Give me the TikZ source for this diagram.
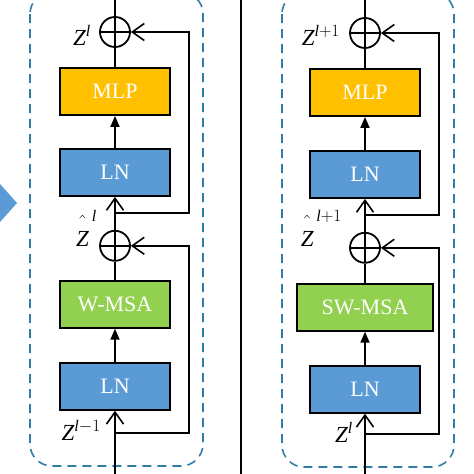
\documentclass[tikz,border=0pt]{standalone}
\usepackage{amsmath}
\usepackage{fontspec}
\setmainfont{Liberation Serif}
\usetikzlibrary{arrows.meta, positioning}

\definecolor{mlpyellow}{RGB}{255,192,0}
\definecolor{lnblue}{RGB}{91,155,213}
\definecolor{msagreen}{RGB}{146,208,80}
\definecolor{dashblue}{RGB}{47,125,165}

\newcommand{\hatZ}{\hat{\rule{0pt}{25pt}\textit{Z}}}

\begin{document}
\begin{tikzpicture}[
  x=1pt, y=-1pt,
  box/.style={draw, line width=2pt, minimum width=110pt, minimum height=47pt,
              inner sep=0pt, text=white, font=\fontsize{22}{24}\selectfont},
  add/.style={draw, circle, line width=1.8pt, minimum size=30pt, inner sep=0pt,
              path picture={\draw[line width=1.8pt]
                (path picture bounding box.north) -- (path picture bounding box.south)
                (path picture bounding box.west) -- (path picture bounding box.east);}},
  lbl/.style={font=\fontsize{23}{25}\selectfont, inner sep=0pt},
  wire/.style={line width=1.8pt},
  open/.style={wire, -{Straight Barb[length=12pt, width=17pt, line width=1.6pt]}},
  feed/.style={wire, -{Triangle[length=11pt, width=9pt]}},
  frame/.style={draw=dashblue, dash pattern=on 9pt off 6pt, line width=1.6pt,
                rounded corners=22pt}
]
  \clip (0,0) rectangle (474,474);

  % left: W-MSA block
  \draw[frame] (30,-8) rectangle (203,466);
  \node[add] (l-add2) at (115,32) {};
  \node[box, fill=mlpyellow, below=19pt of l-add2] (l-mlp) {MLP};
  \node[box, fill=lnblue, below=32pt of l-mlp] (l-ln2) {LN};
  \node[add, below=33pt of l-ln2] (l-add1) {};
  \node[box, fill=msagreen, below=18pt of l-add1] (l-msa) {W-MSA};
  \node[box, fill=lnblue, below=33pt of l-msa] (l-ln1) {LN};
  \node[lbl, left=8pt of l-add2, yshift=-3pt] (l-zout) {$\textit{Z}^{\textit{l}}$};
  \node[lbl, anchor=south east] (l-zmid) at (97,247) {$\hatZ^{\,\textit{l}}$};
  \node[lbl, anchor=east] (l-zin) at (101,430) {$\textit{Z}^{\textit{l}-1}$};
  \coordinate (l-in) at (115,480);
  \coordinate (l-out) at (115,-10);
  \coordinate (l-split1) at (115,433);
  \coordinate (l-split2) at (115,213);

  \draw[open] (l-in) -- (l-ln1);
  \draw[feed] (l-ln1) -- (l-msa);
  \draw[wire] (l-msa) -- (l-add1);
  \draw[open] (l-add1) -- (l-ln2);
  \draw[feed] (l-ln2) -- (l-mlp);
  \draw[wire] (l-mlp) -- (l-add2);
  \draw[wire] (l-add2) -- (l-out);
  \draw[open] (l-split1) -- ++(74,0) |- (l-add1.east);
  \draw[open] (l-split2) -- ++(74,0) |- (l-add2.east);

  % right: SW-MSA block
  \draw[frame] (282,-8) rectangle (454,467);
  \node[add] (r-add2) at (365,33) {};
  \node[box, fill=mlpyellow, below=19pt of r-add2] (r-mlp) {MLP};
  \node[box, fill=lnblue, below=33pt of r-mlp] (r-ln2) {LN};
  \node[add, below=33pt of r-ln2] (r-add1) {};
  \node[box, fill=msagreen, minimum width=136pt, below=19pt of r-add1] (r-msa) {SW-MSA};
  \node[box, fill=lnblue, below=33pt of r-msa] (r-ln1) {LN};
  \node[lbl, left=9pt of r-add2, yshift=-2pt] (r-zout) {$\textit{Z}^{\textit{l}+1}$};
  \node[lbl, anchor=south east] (r-zmid) at (342,247) {$\hatZ^{\,\textit{l}+1}$};
  \node[lbl, anchor=east] (r-zin) at (353,432) {$\textit{Z}^{\textit{l}}$};
  \coordinate (r-in) at (365,480);
  \coordinate (r-out) at (365,-10);
  \coordinate (r-split1) at (365,434);
  \coordinate (r-split2) at (365,215);

  \draw[open] (r-in) -- (r-ln1);
  \draw[feed] (r-ln1) -- (r-msa);
  \draw[wire] (r-msa) -- (r-add1);
  \draw[open] (r-add1) -- (r-ln2);
  \draw[feed] (r-ln2) -- (r-mlp);
  \draw[wire] (r-mlp) -- (r-add2);
  \draw[wire] (r-add2) -- (r-out);
  \draw[open] (r-split1) -- ++(74,0) |- (r-add1.east);
  \draw[open] (r-split2) -- ++(74,0) |- (r-add2.east);

  % divider and arrow stub at the left edge
  \draw[line width=1.6pt] (241,0) -- (241,474);
  \fill[lnblue] (0,184) -- (17,203) -- (0,222) -- cycle;
\end{tikzpicture}
\end{document}
